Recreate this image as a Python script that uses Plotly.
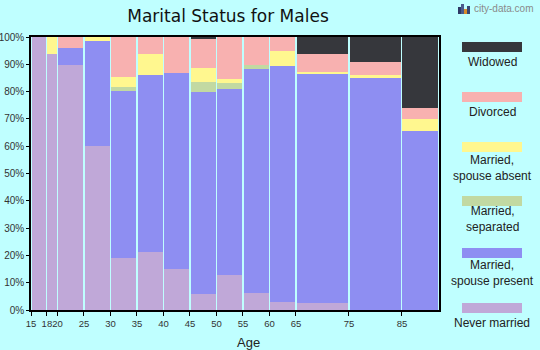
import plotly.graph_objects as go

# Age group boundaries (years); last group is 85+
age_edges = [15, 18, 20, 25, 30, 35, 40, 45, 50, 55, 60, 65, 75, 85, 92]
tick_ages = [15, 18, 20, 25, 30, 35, 40, 45, 50, 55, 60, 65, 75, 85]
pct_ticks = list(range(0, 101, 10))

# Share of males (%) in each age group, by marital status
never_married   = [100, 93.6, 89.9, 60.2, 19.1, 21.3, 15.0, 5.9, 12.8, 6.2, 2.9, 2.6, 0, 0]
spouse_present  = [0, 0, 5.9, 38.5, 61.3, 64.9, 71.7, 74.1, 68.3, 82.2, 86.6, 84.0, 85.1, 65.7]
separated       = [0, 0, 0, 0, 1.4, 0, 0, 3.7, 2.2, 1.5, 0, 0, 0, 0]
spouse_absent   = [0, 6.4, 0, 1.3, 3.7, 7.4, 0, 5.1, 1.5, 0, 5.2, 0.4, 0.8, 4.4]
divorced        = [0, 0, 4.2, 0, 14.5, 6.4, 13.3, 10.6, 15.2, 10.1, 5.3, 6.9, 5.1, 4.0]
widowed         = [0, 0, 0, 0, 0, 0, 0, 0.6, 0, 0, 0, 6.1, 9.0, 25.9]

series = [
    ("Never married", never_married, "#c0a8d8"),
    ("Married,<br>spouse present", spouse_present, "#8e8ef2"),
    ("Married,<br>separated", separated, "#c2d9a2"),
    ("Married,<br>spouse absent", spouse_absent, "#fff78f"),
    ("Divorced", divorced, "#f8b1b0"),
    ("Widowed", widowed, "#36373c"),
]

BG = "#bfffff"
GAP = 0.22  # thin gap between columns, in years
TICK_FONT = "Liberation Sans, Arial"

centers = [(a + b) / 2 for a, b in zip(age_edges[:-1], age_edges[1:])]
widths = [(b - a) - GAP for a, b in zip(age_edges[:-1], age_edges[1:])]

fig = go.Figure()
for name, vals, color in series:
    fig.add_trace(go.Bar(
        x=centers, y=vals, width=widths, name=name,
        marker=dict(color=color, line=dict(width=0)),
        showlegend=False,
    ))

W, H = 540, 350
L, R, T, B = 31, 101, 37, 40


def px(xp):
    return (xp - L) / (W - L - R)


def py(yp):
    return (H - B - yp) / (H - T - B)


shapes = []
annotations = []

# Legend: colour bar with centred caption underneath, top to bottom
legend_items = [
    ("Widowed", "#36373c", 42, 62),
    ("Divorced", "#f8b1b0", 92, 112),
    ("Married,<br>spouse absent", "#fff78f", 142, 168),
    ("Married,<br>separated", "#c2d9a2", 196, 219),
    ("Married,<br>spouse present", "#8e8ef2", 248, 273),
    ("Never married", "#c0a8d8", 303, 323),
]
for label, color, ytop, ytxt in legend_items:
    shapes.append(dict(type="rect", xref="paper", yref="paper",
                       x0=px(462), x1=px(522), y0=py(ytop), y1=py(ytop + 10),
                       fillcolor=color, line=dict(width=0), layer="above"))
    annotations.append(dict(text=label, xref="paper", yref="paper",
                            x=px(492), y=py(ytxt), xanchor="center", yanchor="middle",
                            showarrow=False, align="center",
                            font=dict(family="Liberation Sans, Arial", size=12, color="#222")))

# Site mark in the top-right corner
icon = [(458, 7, 461, 14, "#2e3a66"), (461, 4, 464, 14, "#4a5a8c"),
        (464, 9, 467, 14, "#d98b2b"), (467, 6, 470, 14, "#3a4672")]
for x0, y0, x1, y1, c in icon:
    shapes.append(dict(type="rect", xref="paper", yref="paper",
                       x0=px(x0), x1=px(x1), y0=py(y1), y1=py(y0),
                       fillcolor=c, line=dict(width=0)))
annotations.append(dict(text="city-data.com", xref="paper", yref="paper",
                        x=px(472), y=py(9), xanchor="left", yanchor="middle",
                        showarrow=False,
                        font=dict(family="Liberation Sans, Arial", size=10, color="#8a8a8a")))

# Axis title placed under the age ticks
annotations.append(dict(text="Age", xref="paper", yref="paper",
                        x=px(248), y=py(342), xanchor="center", yanchor="middle",
                        showarrow=False,
                        font=dict(family="Liberation Sans, Arial", size=13, color="#222")))

fig.update_layout(
    width=W, height=H,
    margin=dict(l=L, r=R, t=T, b=B, pad=0, autoexpand=False),
    paper_bgcolor=BG, plot_bgcolor=BG,
    barmode="stack", bargap=0,
    title=dict(text="Marital Status for Males", x=228 / W, xanchor="center",
               y=1 - 16 / H, yanchor="middle",
               font=dict(family="DejaVu Sans, Verdana", size=17, color="#111")),
    xaxis=dict(range=[age_edges[0], age_edges[-1]], tickmode="array",
               tickvals=tick_ages, ticktext=[str(a) for a in tick_ages],
               tickangle=0, automargin=False,
               showgrid=False, zeroline=False,
               showline=True, linecolor="black", linewidth=1.5, mirror=True,
               ticks="outside", ticklen=4, tickcolor="black",
               tickfont=dict(family=TICK_FONT, size=9.5, color="#333")),
    yaxis=dict(range=[0, 100], tickmode="array", tickvals=pct_ticks,
               ticktext=[f"{v}%" for v in pct_ticks], automargin=False,
               showgrid=False, zeroline=False,
               showline=True, linecolor="black", linewidth=1.5, mirror=True,
               ticks="outside", ticklen=3, tickcolor="black",
               tickfont=dict(family=TICK_FONT, size=10, color="#333")),
    shapes=shapes, annotations=annotations,
)

fig.write_html("out.html")
